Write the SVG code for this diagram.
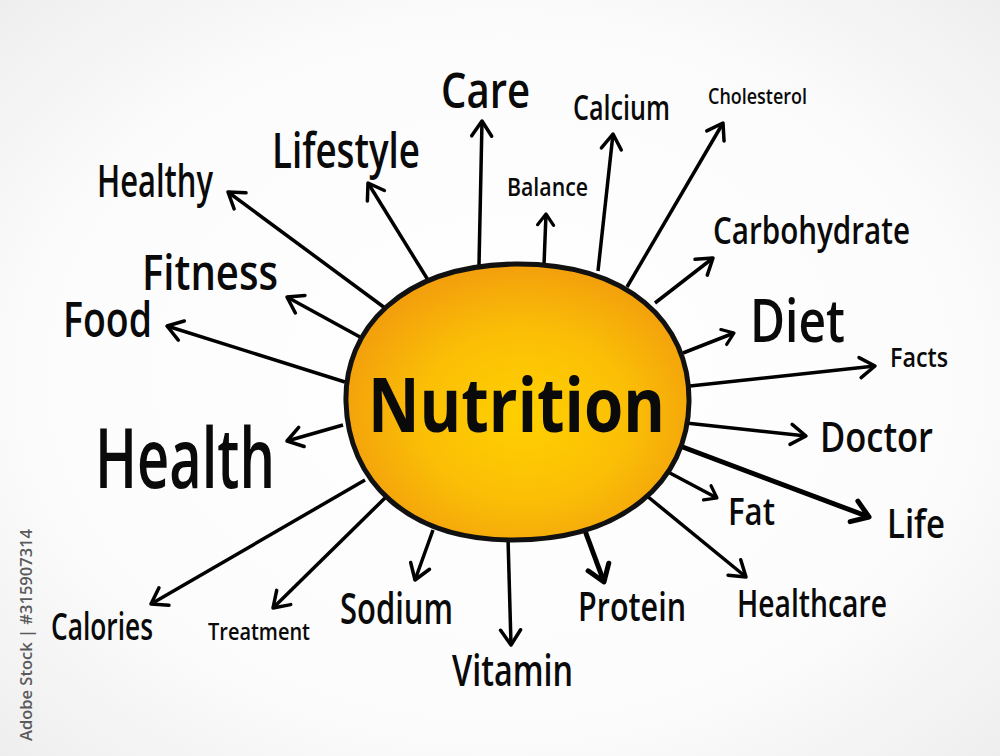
<svg xmlns="http://www.w3.org/2000/svg" width="1000" height="756" viewBox="0 0 1000 756">
<defs>
<radialGradient id="bg" cx="50%" cy="50%" r="75%">
<stop offset="0" stop-color="#ffffff"/>
<stop offset="0.6" stop-color="#fcfcfc"/>
<stop offset="1" stop-color="#ececec"/>
</radialGradient>
<radialGradient id="orb" cx="52%" cy="55%" r="55%">
<stop offset="0" stop-color="#ffd000"/>
<stop offset="0.55" stop-color="#fbbf06"/>
<stop offset="1" stop-color="#f29f0c"/>
</radialGradient>
<marker id="ah" markerUnits="userSpaceOnUse" markerWidth="40" markerHeight="40" viewBox="-20 -20 40 40" refX="0" refY="0" orient="auto">
<path d="M-15,-10 L0,0 L-15,10" fill="none" stroke="#000" stroke-width="3.5" stroke-linecap="round" stroke-linejoin="round"/>
</marker>
<marker id="ahs" markerUnits="userSpaceOnUse" markerWidth="40" markerHeight="40" viewBox="-20 -20 40 40" refX="0" refY="0" orient="auto">
<path d="M-11,-8 L0,0 L-11,8" fill="none" stroke="#000" stroke-width="3.2" stroke-linecap="round" stroke-linejoin="round"/>
</marker>
<marker id="ahb" markerUnits="userSpaceOnUse" markerWidth="40" markerHeight="40" viewBox="-20 -20 40 40" refX="0" refY="0" orient="auto">
<path d="M-16,-11 L0,0 L-16,11" fill="none" stroke="#000" stroke-width="5" stroke-linecap="round" stroke-linejoin="round"/>
</marker>
</defs>
<style>
.c{fill:none;stroke:#000;stroke-width:3.5;stroke-linecap:butt}
.cs{marker-end:url(#ahs)}
.cn{marker-end:url(#ah)}
.cb{stroke-width:5;marker-end:url(#ahb)}
.t{font-family:"Open Sans","Noto Sans","DejaVu Sans",sans-serif;font-weight:600;fill:#0a0a0a}
.tb{font-weight:700}
.wm{font-family:"Open Sans","Noto Sans",sans-serif;font-weight:600;fill:#5a5a5a;font-size:17px}
</style>
<rect x="0" y="0" width="1000" height="756" fill="url(#bg)"/>

<g id="connectors">
<line class="c cn" x1="479" y1="265" x2="482" y2="121"/>
<line class="c cs" x1="544" y1="265" x2="546" y2="214"/>
<line class="c cn" x1="598" y1="271" x2="613" y2="134"/>
<line class="c cn" x1="627" y1="287" x2="723" y2="123"/>
<line class="c cn" x1="655" y1="303" x2="713" y2="258"/>
<line class="c cs" x1="683" y1="353" x2="734" y2="333"/>
<line class="c cn" x1="690" y1="386" x2="875" y2="366"/>
<line class="c cn" x1="686" y1="423" x2="806" y2="436"/>
<line class="c cb" x1="680" y1="446" x2="869" y2="517"/>
<line class="c cs" x1="668" y1="472" x2="717" y2="498"/>
<line class="c cn" x1="647" y1="496" x2="746" y2="577"/>
<line class="c cb" x1="584" y1="528" x2="604" y2="582"/>
<line class="c cn" x1="508" y1="538" x2="511" y2="645"/>
<line class="c cn" x1="433" y1="530" x2="415" y2="580"/>
<line class="c cn" x1="386" y1="497" x2="273" y2="608"/>
<line class="c cn" x1="365" y1="480" x2="151" y2="604"/>
<line class="c cn" x1="343" y1="425" x2="287" y2="441"/>
<line class="c cn" x1="345" y1="382" x2="167" y2="326"/>
<line class="c cn" x1="360" y1="337" x2="287" y2="297"/>
<line class="c cn" x1="385" y1="308" x2="228" y2="192"/>
<line class="c cn" x1="428" y1="280" x2="368" y2="183"/>
</g>

<g id="nutrition">
<path d="M346,402 C344,330 400,266 515,264 C628,263 690,322 689,402 C688,482 622,540 513,540 C406,540 348,480 346,402 Z" fill="url(#orb)" stroke="#111" stroke-width="5"/>
<text class="t tb" x="368" y="432" font-size="76" textLength="297" lengthAdjust="spacingAndGlyphs">Nutrition</text>
</g>

<g id="care"><text class="t" x="441" y="108" font-size="48" textLength="89" lengthAdjust="spacingAndGlyphs">Care</text></g>
<g id="balance"><text class="t" x="507" y="196" font-size="26" textLength="81" lengthAdjust="spacingAndGlyphs">Balance</text></g>
<g id="calcium"><text class="t" x="573" y="120" font-size="34" textLength="97" lengthAdjust="spacingAndGlyphs">Calcium</text></g>
<g id="cholesterol"><text class="t" x="708" y="104" font-size="22" textLength="99" lengthAdjust="spacingAndGlyphs">Cholesterol</text></g>
<g id="carbohydrate"><text class="t" x="713" y="244" font-size="38" textLength="197" lengthAdjust="spacingAndGlyphs">Carbohydrate</text></g>
<g id="diet"><text class="t" x="750" y="342" font-size="60" textLength="95" lengthAdjust="spacingAndGlyphs">Diet</text></g>
<g id="facts"><text class="t" x="890" y="367" font-size="27" textLength="58" lengthAdjust="spacingAndGlyphs">Facts</text></g>
<g id="doctor"><text class="t" x="820" y="452" font-size="42" textLength="113" lengthAdjust="spacingAndGlyphs">Doctor</text></g>
<g id="life"><text class="t" x="887" y="538" font-size="40" textLength="58" lengthAdjust="spacingAndGlyphs">Life</text></g>
<g id="fat"><text class="t" x="728" y="525" font-size="38" textLength="47" lengthAdjust="spacingAndGlyphs">Fat</text></g>
<g id="healthcare"><text class="t" x="737" y="617" font-size="38" textLength="150" lengthAdjust="spacingAndGlyphs">Healthcare</text></g>
<g id="protein"><text class="t" x="578" y="621" font-size="40" textLength="108" lengthAdjust="spacingAndGlyphs">Protein</text></g>
<g id="vitamin"><text class="t" x="452" y="686" font-size="44" textLength="121" lengthAdjust="spacingAndGlyphs">Vitamin</text></g>
<g id="sodium"><text class="t" x="340" y="624" font-size="44" textLength="113" lengthAdjust="spacingAndGlyphs">Sodium</text></g>
<g id="treatment"><text class="t" x="208" y="640" font-size="24" textLength="102" lengthAdjust="spacingAndGlyphs">Treatment</text></g>
<g id="calories"><text class="t" x="51" y="640" font-size="38" textLength="102" lengthAdjust="spacingAndGlyphs">Calories</text></g>
<g id="health"><text class="t" x="95" y="488" font-size="84" textLength="180" lengthAdjust="spacingAndGlyphs">Health</text></g>
<g id="food"><text class="t" x="63" y="337" font-size="48" textLength="89" lengthAdjust="spacingAndGlyphs">Food</text></g>
<g id="fitness"><text class="t" x="142" y="290" font-size="48" textLength="136" lengthAdjust="spacingAndGlyphs">Fitness</text></g>
<g id="healthy"><text class="t" x="97" y="197" font-size="46" textLength="116" lengthAdjust="spacingAndGlyphs">Healthy</text></g>
<g id="lifestyle"><text class="t" x="272" y="168" font-size="48" textLength="148" lengthAdjust="spacingAndGlyphs">Lifestyle</text></g>

<text class="wm" transform="translate(32,741) rotate(-90)" textLength="212" lengthAdjust="spacingAndGlyphs">Adobe Stock | #315907314</text>
</svg>
